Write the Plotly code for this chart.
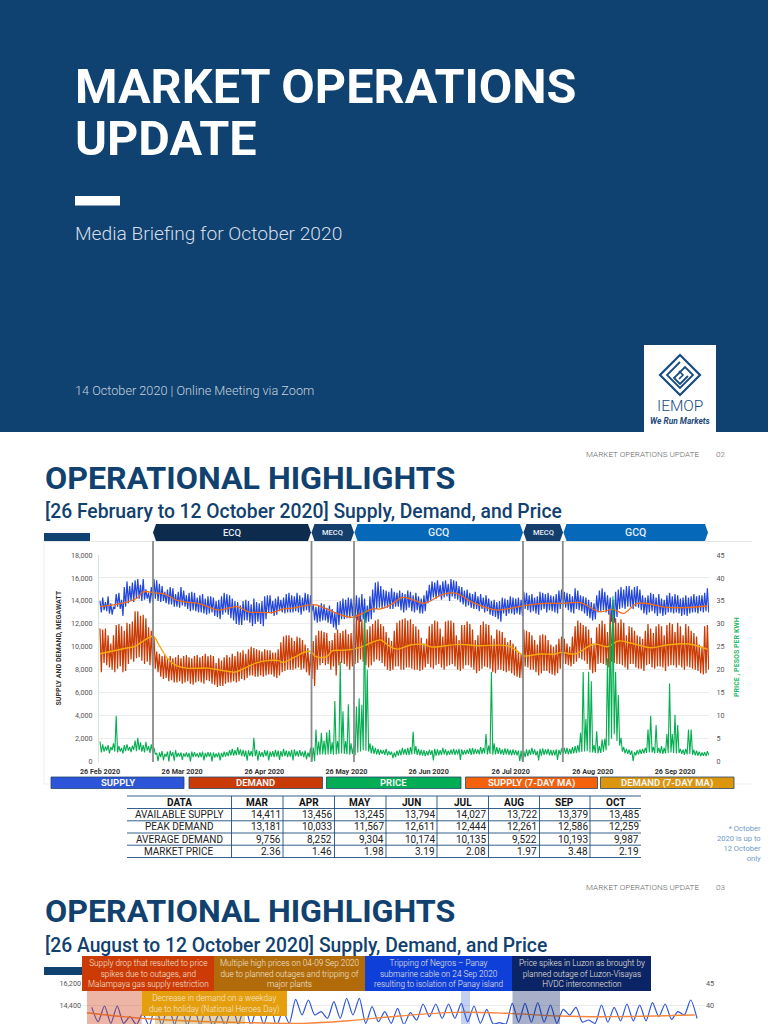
import pandas as pd
import plotly.graph_objects as go

# ---------- chart 1 data (daily envelopes) ----------
supply_high = [14000,14300,13900,14400,13800,13500,14600,14700,14100,15200,15700,15300,15600,15800,
15900,15400,15900,15000,14700,15200,15900,15800,15500,15300,14800,15000,15200,15100,
14600,14800,15200,14900,14500,14700,14800,14700,14300,14500,14600,14200,14400,14400,
14300,14000,14100,14400,14700,14600,14500,14200,14000,13900,13600,14000,14100,14000,
13700,14200,13900,13800,14000,14400,14500,14500,14000,14200,14400,14100,14300,14600,
14700,14500,14400,14700,14500,14300,14700,14600,14500,13700,13500,13600,13800,13700,
13400,13600,13300,13000,13900,14000,14200,14100,14300,14200,14400,14500,14300,14600,
14200,13600,14400,15000,15600,15700,15300,15000,14900,14800,15100,14800,14700,14900,
14700,14600,14900,14800,14500,14700,14400,14200,14500,14900,15400,15700,15600,15800,
15400,15700,15800,15500,15900,15800,15700,15300,15200,14900,15000,14700,14600,14800,
14400,14600,14300,14500,14200,14000,14100,13900,14000,14300,14200,14100,14400,14300,
14200,14300,14100,14800,14700,14500,14600,14300,14400,14800,14700,14600,14700,14500,
14400,14600,14900,15000,14800,14700,14600,14400,15100,14900,14500,14400,14300,14100,
13900,13800,14500,14900,15100,14800,14500,14300,14100,14800,15000,15200,15000,15300,
15300,15000,15200,15300,15000,14500,14300,14500,14700,14600,14300,14600,14200,14100,
14500,14700,14400,14600,14500,14200,14300,14500,14300,14400,14600,14400,14500,14500,
14700,15100]
supply_low = [13000,13200,13100,12900,12800,13300,13500,13300,12700,13500,13800,14000,13900,14200,
14200,14000,14100,14200,13800,13900,14200,14000,13900,14000,13800,13700,13700,13500,
13500,13400,13600,13500,13300,13100,13200,13100,13000,13000,12900,12800,12900,13000,
12700,12600,12400,12800,13000,12800,12500,12300,12000,11900,11900,12300,12300,12100,
11800,12000,12200,12000,11800,12400,13000,12900,12700,12800,13100,13000,12900,13000,
13000,13000,13100,13000,12800,13100,13200,13000,13100,12300,12100,12200,12300,12300,
12100,12000,11700,11500,11900,12400,12400,12500,12500,12700,12500,12300,12200,12400,
12100,12200,12400,13000,13300,13400,13300,13500,13400,13300,13300,13500,13500,13200,
13000,13200,13400,13100,13000,13200,12900,12900,13100,13800,14000,14300,14200,14400,
14100,14300,14400,14000,14400,14200,14100,13900,13700,13500,13600,13400,13300,13300,
13100,13300,13000,13100,12800,12700,12600,12400,12200,12900,12700,12900,12900,12800,
12900,12800,12700,13300,13200,13000,13100,12900,12800,13200,13300,13000,13200,13100,
13000,12900,13300,13500,13400,13200,13000,12900,13300,13200,13100,12900,12700,12500,
12300,12400,13000,13100,13200,13000,12800,12200,12100,12600,13300,13400,13300,13500,
13500,13300,13500,13400,13200,12900,12800,13000,13100,12900,12700,12900,12700,12800,
13000,13000,12900,13000,12900,12700,12800,12700,12900,13000,13000,12900,13100,13000,
13100,13000]
demand_high = [11600,11500,11600,11000,10300,11000,11900,12000,11800,11400,12100,12000,12200,13100,
13100,12700,12800,12500,11700,11400,10900,9600,9400,9200,9300,9000,9200,9000,
9100,9300,9000,9200,9300,9100,9000,9200,9300,9100,9200,9400,9200,9300,
9200,8600,9000,8800,9100,9300,9100,9400,9200,9600,9500,9700,9400,9800,
10000,9900,9800,9700,9600,9800,9700,9700,9500,9500,9800,10400,10900,11000,
11000,10800,10500,10900,10800,10600,10200,9900,9400,10500,11000,11400,11400,11300,
11200,10500,10600,11200,11500,11200,11400,11500,11100,11200,12000,12800,13000,12400,
12200,11500,11800,12000,12300,12400,12000,11800,11300,10800,10500,11400,12100,12300,
12400,12500,12300,12400,12000,11800,11500,10800,10300,10700,11800,12000,12300,12200,
11600,10900,12200,12300,12300,12100,11000,10600,11900,11900,12200,12000,11500,10600,
11000,11900,12200,12000,11900,11000,10700,11500,11400,11300,10800,10400,10600,10300,
10000,9600,9400,11500,11400,11300,11000,10600,10200,11000,11100,11000,10600,10200,
10000,10200,10700,10900,10700,10300,10000,10900,11800,12300,12100,11900,11800,11500,
10800,10200,11700,12000,12300,12000,11300,13000,12600,12500,12100,12400,12100,11000,
11800,11700,11400,11000,10900,10700,11400,12000,11600,11200,11800,12000,11800,11000,
11900,12100,12000,11300,12100,11800,11000,12000,11800,11400,11200,10900,10200,10000,
11800,11900]
demand_low = [7800,8600,8400,8200,8000,7800,8100,8300,7800,7900,8500,8900,8700,9000,
9100,8800,8500,8700,8400,8300,8100,7800,7400,7200,7300,7000,7100,6900,
6900,7000,6800,6900,7000,6800,6700,6900,7000,6900,6800,7100,7000,6800,
6700,6500,6600,6600,6800,6900,6900,7000,6900,7000,7200,7100,7300,7500,
7500,7400,7400,7500,7400,7500,7600,7600,7400,7300,7500,7800,7900,8000,
8000,8000,8100,8200,8000,8100,7800,7500,7200,6600,8000,8400,8600,8400,
8500,8000,8300,7500,8400,8600,8500,8300,8000,8300,8500,8600,8900,8700,
8400,8200,8400,8700,8900,8800,8600,8300,8000,7900,8000,8300,8300,8000,
8000,8200,8200,8100,8000,8000,7900,8000,8200,8500,8200,8100,8400,8500,
8200,8000,8300,8400,8500,8300,8000,7900,8100,8400,8400,8200,8000,7700,
7900,8100,8300,8200,8100,7800,7700,8000,8000,7900,7800,7900,7700,7500,
7400,7300,7300,8300,8200,8000,8000,7800,7500,7700,7900,7900,7700,7600,
7500,7700,8100,8500,8500,8400,8300,8500,8700,9000,8900,8800,8500,8000,
7700,7800,8500,8600,8500,8400,8200,8700,8600,8500,8500,8400,8200,8000,
8500,8500,8200,8100,8100,7900,8400,8500,8200,8100,8300,8300,8200,7900,
8300,8400,8400,8200,8400,8200,8000,8300,8200,8100,8000,7900,7700,7600,
7700,8000]
price_peak = [4.4,3.8,3.3,3.6,3.2,4.0,10.0,3.4,3.0,3.6,3.8,3.2,3.5,4.6,
5.2,4.2,3.6,4.3,3.4,3.8,3.0,1.9,2.0,2.3,1.7,2.2,2.4,2.1,
2.5,1.9,2.0,1.8,2.0,1.9,2.2,2.1,1.8,2.0,2.2,1.9,2.1,2.0,
2.0,1.8,2.0,1.9,2.2,2.1,2.5,2.8,2.5,3.2,2.7,2.6,2.4,2.5,
2.3,5.2,2.6,2.3,2.1,2.5,2.4,2.2,2.3,2.6,2.4,2.3,2.8,2.4,
2.3,2.6,2.7,2.3,2.5,2.2,2.4,2.0,3.0,3.1,7.0,4.4,6.3,4.6,
6.4,6.9,4.2,13.2,4.5,21.8,11.0,4.5,12.5,4.0,3.5,12.0,13.8,12.4,
33.0,20.0,4.0,3.5,3.0,2.8,2.6,2.5,2.8,2.3,2.2,2.0,2.4,2.6,
3.0,2.8,3.0,3.2,6.5,3.4,2.8,2.6,2.5,2.3,2.6,2.5,2.8,2.7,
2.5,3.0,2.7,2.4,2.6,2.8,2.6,2.8,2.7,2.5,2.6,2.9,3.0,2.8,
2.7,3.2,3.0,6.0,3.5,19.5,4.0,3.2,3.0,2.7,2.9,2.8,2.6,2.7,
2.5,2.4,2.4,2.3,2.7,2.6,3.0,2.7,2.3,2.8,2.9,2.7,2.8,2.6,
2.5,2.7,2.6,2.9,3.0,3.0,2.8,3.2,3.4,3.6,6.3,19.5,9.3,19.6,
17.5,3.6,6.6,3.4,4.8,5.0,22.5,30.0,36.0,19.5,14.5,5.2,3.2,2.8,
2.6,2.4,2.1,2.5,2.7,2.8,3.0,7.0,10.0,3.2,8.0,3.0,3.4,3.0,
6.0,17.0,6.0,10.2,8.0,2.8,2.6,2.8,7.0,7.0,2.6,2.4,2.2,2.0,
2.1,2.3]
price_base = [2.0,2.2,2.4,1.8,2.5,2.2,2.0,2.2,1.8,2.3,2.4,2.1,2.6,2.3,
2.5,2.2,2.0,2.4,1.9,2.0,1.6,0.1,1.0,0.3,1.1,0.0,1.2,0.2,
1.0,1.1,0.4,1.1,1.0,0.0,1.0,1.1,0.9,1.0,0.3,1.0,1.1,0.0,
0.9,1.0,0.3,1.0,1.1,1.2,1.4,1.3,1.4,1.5,1.2,1.1,0.2,1.2,
1.1,1.2,0.2,1.1,1.0,1.2,0.3,1.1,1.0,1.1,0.4,1.1,1.2,1.0,
1.1,0.3,1.2,1.1,1.2,1.0,0.5,1.0,0.0,0.1,1.4,1.5,1.6,1.5,
1.6,1.7,1.5,1.6,1.7,1.8,1.7,1.6,1.5,1.7,1.4,2.0,2.2,2.5,
2.4,2.2,1.8,1.7,1.6,1.5,1.7,1.5,1.4,1.5,0.8,1.0,1.3,1.4,
1.6,1.5,1.4,1.6,1.7,1.5,1.4,1.3,1.2,1.4,1.5,0.3,1.3,1.4,
1.5,1.6,1.4,1.5,1.6,1.5,1.6,0.4,1.5,1.6,1.7,1.5,1.6,1.7,
1.6,1.7,1.8,1.6,1.7,1.5,1.6,1.7,1.6,1.5,1.6,1.5,1.4,1.5,
1.4,0.1,0.0,1.0,1.2,1.5,1.6,1.4,0.3,1.3,1.5,1.6,1.4,1.3,
1.4,0.4,1.5,1.6,1.7,1.6,1.7,1.8,1.9,2.0,2.1,2.2,2.3,2.0,
2.0,1.9,1.8,1.9,2.2,2.5,3.5,5.0,6.0,4.5,3.5,2.2,1.8,1.7,
1.5,0.1,1.4,1.6,1.7,1.8,1.9,2.0,2.0,1.8,1.9,1.8,1.7,1.8,
1.9,2.0,1.9,1.8,1.9,1.7,1.5,1.6,1.7,1.5,1.4,1.3,1.2,1.3,
1.2,1.4]

supply_ma_days = [0,10,14,16,20,24,28,32,36,40,44,48,51,55,60,64,68,72,76,78,80,84,88,92,94,98,101,104,108,112,116,120,127,132,138,147,153,157,165,171,178,185,190,194,199,210,216,225]
supply_ma = [13500,13900,14300,14800,14700,14600,14100,13900,13800,13500,13200,13400,13500,13050,13000,13000,13300,13400,13600,13650,13650,13300,12900,12600,12600,13000,13300,13300,13700,14300,14100,13800,14570,14660,13880,13210,13400,13590,13790,13790,13850,13060,13270,12920,13790,13440,13410,13560]
demand_ma_days = [0,10,13,16,19,20,22,25,28,32,40,44,48,50,54,58,62,66,68,72,76,78,80,84,86,90,94,98,102,104,107,110,115,120,123,133,140,151,154,157,163,168,171,176,183,188,192,197,204,210,218,225]
demand_ma = [9400,9900,10050,10500,10900,10900,10100,9000,8400,8150,8150,8000,7850,7800,8200,8600,8800,8800,8650,9100,9550,9600,9150,9150,9650,9700,9800,10100,10500,10600,10100,9800,10160,10220,9990,10220,10100,10100,9730,9230,9380,9360,9520,9380,10250,10015,10510,10310,9930,10160,10250,9790]

x_tick_labels = ["26 Feb 2020","26 Mar 2020","26 Apr 2020","26 May 2020","26 Jun 2020","26 Jul 2020","26 Aug 2020","26 Sep 2020"]
x_tick_step_days = 30.43
mw_ticks = [0,2000,4000,6000,8000,10000,12000,14000,16000,18000]
price_ticks = [0,5,10,15,20,25,30,35,40,45]

# ---------- table ----------
table_header = ["DATA","MAR","APR","MAY","JUN","JUL","AUG","SEP","OCT"]
table_rows = {
    "AVAILABLE SUPPLY": ["14,411","13,456","13,245","13,794","14,027","13,722","13,379","13,485"],
    "PEAK DEMAND": ["13,181","10,033","11,567","12,611","12,444","12,261","12,586","12,259"],
    "AVERAGE DEMAND": ["9,756","8,252","9,304","10,174","10,135","9,522","10,193","9,987"],
    "MARKET PRICE": ["2.36","1.46","1.98","3.19","2.08","1.97","3.48","2.19"],
}

# ---------- chart 2 data (top of the chart only is on the page) ----------
supply2_peak = [14209,14318,14318,13445,13700,14300,14400,14350,14300,14250,13650,14350,14400,14300,14350,13900,
14863,14809,13854,14673,14945,14945,14263,13854,14127,13773,14482,14482,14482,14536,14318,14045,
12950,14536,14536,14590,14400,14045,14209,13172,14400,14209,14482,14400,14590,14482,13854,14809]
supply2_low = [13030,12900,12900,12800,12700,12750,12800,12700,12750,12650,12700,12800,12750,12800,12700,12900,
13580,13580,13300,13300,13580,12900,13030,12900,12800,13170,13445,13300,13300,13030,12900,12850,
12850,13000,13000,13000,12900,13580,13000,12900,13000,13100,13100,13100,13445,13230,13580,13300]
supply2_ma_days = [0,4.3,9,13,17,20.5,24.5,29,33,37,41,47.7]
supply2_ma = [13770,13310,13050,12950,12900,13116,13500,13800,13720,13500,13445,13580]

start = pd.Timestamp("2020-02-26")
start2 = pd.Timestamp("2020-08-26")

def zig(hi, lo, base):
    xs, ys = [], []
    for i, (a, b) in enumerate(zip(hi, lo)):
        xs += [base + pd.Timedelta(hours=24 * i), base + pd.Timedelta(hours=24 * i + 12)]
        ys += [a, b]
    return xs, ys

def at(base, ds):
    return [base + pd.Timedelta(hours=24 * d) for d in ds]

W, H = 768, 1024
NAVY = "#0f4171"
fig = go.Figure()

# chart 1 traces
sx, sy = zig(supply_high, supply_low, start)
dx, dy = zig(demand_high, demand_low, start)
px_, py = zig(price_peak, price_base, start)
fig.add_trace(go.Scatter(x=px_, y=py, yaxis="y2", xaxis="x", mode="lines", line=dict(color="#05ae50", width=1.1), name="PRICE"))
fig.add_trace(go.Scatter(x=sx, y=sy, mode="lines", line=dict(color="#2446d8", width=1.2), name="SUPPLY"))
fig.add_trace(go.Scatter(x=dx, y=dy, mode="lines", line=dict(color="#c93b05", width=1.25), name="DEMAND"))
fig.add_trace(go.Scatter(x=at(start, supply_ma_days), y=supply_ma, mode="lines", line=dict(color="#f36b14", width=1.3, shape="spline"), name="SUPPLY MA"))
fig.add_trace(go.Scatter(x=at(start, demand_ma_days), y=demand_ma, mode="lines", line=dict(color="#f7ab0f", width=1.4, shape="spline"), name="DEMAND MA"))

# chart 2 traces
x2 = []
y2 = []
for i, (a, b) in enumerate(zip(supply2_peak, supply2_low)):
    x2 += [start2 + pd.Timedelta(hours=24 * i + 9), start2 + pd.Timedelta(hours=24 * i + 21)]
    y2 += [a, b]
fig.add_trace(go.Scatter(x=x2, y=y2, xaxis="x2", yaxis="y3", mode="lines", line=dict(color="#2f55d8", width=1.2, shape="spline", smoothing=0.7), name="SUPPLY 2"))
fig.add_trace(go.Scatter(x=at(start2, supply2_ma_days), y=supply2_ma, xaxis="x2", yaxis="y3", mode="lines", line=dict(color="#f4873c", width=1.4, shape="spline"), name="SUPPLY MA 2"))

shapes, notes = [], []

def rect(x0, y0, x1, y1, fill, line=None, lw=0, layer="above"):
    shapes.append(dict(type="rect", xref="paper", yref="paper", x0=x0 / W, x1=x1 / W, y0=1 - y0 / H, y1=1 - y1 / H,
                       fillcolor=fill, line=dict(color=line or fill, width=lw), layer=layer))

def seg(x0, y0, x1, y1, color, lw=1, layer="above"):
    shapes.append(dict(type="line", xref="paper", yref="paper", x0=x0 / W, x1=x1 / W, y0=1 - y0 / H, y1=1 - y1 / H,
                       line=dict(color=color, width=lw), layer=layer))

def poly(points, fill=None, line=None, lw=0, closed=True):
    d = "M " + " L ".join(f"{x / W:.5f},{1 - y / H:.5f}" for x, y in points) + (" Z" if closed else "")
    shapes.append(dict(type="path", xref="paper", yref="paper", path=d, fillcolor=fill or "rgba(0,0,0,0)",
                       line=dict(color=line or "rgba(0,0,0,0)", width=lw), layer="above"))

def text(x, y, s, size, color, anchor="left", weight=400, family="Roboto", style="normal", angle=0):
    notes.append(dict(xref="paper", yref="paper", x=x / W, y=1 - y / H, text=s, showarrow=False, xanchor=anchor, yanchor="middle",
                      align={"left": "left", "center": "center", "right": "right"}[anchor], textangle=angle, borderpad=0,
                      font=dict(family=family, size=size, color=color, weight=weight, style=style)))

# cover
rect(0, 0, W, 432, NAVY, layer="below")
text(74, 86.5, "MARKET OPERATIONS", 48.6, "#ffffff", weight=700)
text(74, 138.5, "UPDATE", 48.6, "#ffffff", weight=700)
rect(75, 196, 120, 205.5, "#ffffff")
text(74, 233, "Media Briefing for October 2020", 19.2, "#d5dfe9", weight=300)
text(74, 390, "14 October 2020 | Online Meeting via Zoom", 12.7, "#c4d1de", weight=300)
rect(644, 345, 716, 432, "#ffffff")
LOGO = "#174c7e"
poly([(680, 355), (700, 375), (680, 395), (660, 375)], line=LOGO, lw=2.2)
poly([(680, 362), (667, 375), (680, 388), (693, 375), (685, 367), (674, 378), (680, 384), (688, 376)], line=LOGO, lw=1.8, closed=False)
poly([(679, 371), (683, 375), (679, 379)], line=LOGO, lw=1.6, closed=False)
text(680, 406, "IEMOP", 15.5, LOGO, anchor="center", weight=300)
text(680, 421, "We Run Markets", 8.4, "#1d4a7a", anchor="center", weight=700, style="italic")

# page 2 heading
PAGE = "#656565"
text(585, 453.5, "MARKET OPERATIONS UPDATE", 8.1, PAGE, weight=300)
text(715, 453.5, "02", 8.1, PAGE, weight=300)
text(44, 478, "OPERATIONAL HIGHLIGHTS", 32.2, "#11416f", weight=700)
text(44, 511.5, "[26 February to 12 October 2020] Supply, Demand, and Price", 19.3, "#11416f", weight=500)
rect(44, 533, 90, 541, NAVY)

# chart panel
poly([(44, 541.5), (752, 541.5)], line="#e6e6e6", lw=1, closed=False)
poly([(44, 541.5), (44, 784), (752, 784)], line="#efefef", lw=1, closed=False)

# phase bars
phases = [("ECQ", 153, 311, "#0c2b4d", 9.5), ("MECQ", 311.5, 354, "#143f6c", 7.5), ("GCQ", 354.5, 523, "#0568b9", 10.5),
          ("MECQ", 523.5, 563, "#143f6c", 7.5), ("GCQ", 563.5, 708, "#0568b9", 10.5)]
for name, a, b, col, fs in phases:
    poly([(a + 3, 524), (b - 3, 524), (b, 532.5), (b - 3, 541), (a + 3, 541), (a, 532.5)], fill=col)
    text((a + b) / 2, 532.8, name, fs, "#e6eef6", anchor="center", weight=500)
for xv in [153, 311.5, 354, 523, 562.8]:
    seg(xv, 541, xv, 762, "#8b8b8b", 1.8)

# chart 1 axis captions
text(57.5, 648, "SUPPLY AND DEMAND, MEGAWATT", 7.1, "#333333", anchor="center", weight=700, angle=-90)
text(736, 657, "PRICE , PESOS PER KWH", 7.1, "#1fb866", anchor="center", weight=700, angle=-90)

# legend boxes
legend = [("SUPPLY", 51, 184, "#2c55d9"), ("DEMAND", 189, 322.5, "#c93a07"), ("PRICE", 326.5, 461, "#00ad55"),
          ("SUPPLY (7-DAY MA)", 465.5, 597.5, "#f4610a"), ("DEMAND (7-DAY MA)", 600.5, 734, "#dc960d")]
for name, a, b, col in legend:
    rect(a, 777, b, 788.5, col, line="#24486f", lw=0.8)
    text((a + b) / 2, 782.8, name, 9.5, "#f3f3f3", anchor="center", weight=700)

# table
NARROW = "Liberation Sans Narrow, Roboto"
col_edges = [127, 231.5, 283, 334.5, 386, 437, 488.5, 539.5, 590, 641]
row_edges = [796, 808.5, 820.8, 833, 845.2, 857.5]
for yv in row_edges:
    seg(col_edges[0], yv, col_edges[-1], yv, "#1d4e7d", 0.9)
for xv in col_edges[1:-1]:
    seg(xv, row_edges[0], xv, row_edges[-1], "#1d4e7d", 0.9)
for j, h in enumerate(table_header):
    text((col_edges[j] + col_edges[j + 1]) / 2, 802.2, h, 10, "#111111", anchor="center", weight=700, family=NARROW)
for i, (label, vals) in enumerate(table_rows.items()):
    yc = (row_edges[i + 1] + row_edges[i + 2]) / 2
    text((col_edges[0] + col_edges[1]) / 2, yc, label, 10, "#222222", anchor="center", family=NARROW)
    for j, v in enumerate(vals):
        text(col_edges[j + 2] - 1.5, yc, v, 10, "#222222", anchor="right", family=NARROW)
text(762, 843.5, "* October<br>2020 is up to<br>12 October<br>only", 7.6, "#6f9bc5", anchor="right", weight=400)

# page 3 heading
text(585, 886.5, "MARKET OPERATIONS UPDATE", 8.1, PAGE, weight=300)
text(715, 886.5, "03", 8.1, PAGE, weight=300)
text(44, 911, "OPERATIONAL HIGHLIGHTS", 32.2, "#11416f", weight=700)
text(44, 945, "[26 August to 12 October 2020] Supply, Demand, and Price", 19.3, "#11416f", weight=500)
rect(44, 967, 90, 975, NAVY)

# chart 2 shaded spans and call-outs
rect(87, 991, 141.5, 1024, "rgba(205,60,20,0.38)")
rect(155, 1011, 245, 1024, "rgba(190,130,20,0.35)")
rect(461, 991, 470, 1024, "rgba(40,85,210,0.28)")
rect(512.5, 991, 560, 1024, "rgba(12,36,102,0.36)")
callouts = [
    (82, 214, 956, 991, "#cc3a06", "Supply drop that resulted to price<br>spikes due to outages, and<br>Malampaya gas supply restriction"),
    (214, 365, 956, 991, "#b26b0b", "Multiple high prices on 04-09 Sep 2020<br>due to planned outages and tripping of<br>major plants"),
    (365, 512, 956, 991, "#0e3fd9", "Tripping of Negros – Panay<br>submarine cable on 24 Sep 2020<br>resulting to isolation of Panay island"),
    (512, 651, 956, 991, "#0b2466", "Price spikes in Luzon as brought by<br>planned outage of Luzon-Visayas<br>HVDC interconnection"),
    (141.5, 287, 991, 1016, "#e59f0e", "Decrease in demand on a weekday<br>due to holiday (National Heroes Day)"),
]
for x0, x1, y0, y1, col, msg in callouts:
    rect(x0, y0, x1, y1, col)
    text((x0 + x1) / 2, (y0 + y1) / 2, msg, 8.2, "#f1e9df", anchor="center", weight=300)

TICK = dict(family="Roboto", size=7.2, color="#555555")
GRID = "#ececec"
CLEAR = "rgba(0,0,0,0)"
xr1 = [start + pd.Timedelta(hours=24 * -0.37), start + pd.Timedelta(hours=24 * 225.6)]
xr2 = [start2 + pd.Timedelta(hours=24 * -0.39), start2 + pd.Timedelta(hours=24 * 48.5)]
x_tick_vals = [start + pd.Timedelta(hours=24 * x_tick_step_days * i) for i in range(len(x_tick_labels))]
fig.update_layout(
    width=W, height=H, margin=dict(l=0, r=0, t=0, b=0, autoexpand=False),
    paper_bgcolor="#ffffff", plot_bgcolor="rgba(0,0,0,0)", showlegend=False,
    shapes=shapes, annotations=notes,
    xaxis=dict(domain=[99 / W, 709 / W], range=xr1, type="date", anchor="y", tickmode="array", tickvals=x_tick_vals, ticktext=x_tick_labels,
               showgrid=False, zeroline=False, showline=False, ticks="outside", ticklen=3, tickcolor=CLEAR, tickangle=0,
               tickfont=dict(family="Roboto", size=7.2, color="#333333", weight=700)),
    yaxis=dict(domain=[1 - 761.7 / H, 1 - 555 / H], range=[0, 18000], tickmode="array", tickvals=mw_ticks, tickformat=",d",
               showgrid=True, gridcolor=GRID, gridwidth=1.4, zeroline=False, showline=True, linecolor="#d5e8d4", linewidth=1,
               ticks="outside", ticklen=4, tickcolor=CLEAR, tickfont=TICK),
    yaxis2=dict(domain=[1 - 761.7 / H, 1 - 555 / H], range=[0, 45], overlaying="y", side="right", anchor="x", tickmode="array", tickvals=price_ticks,
                showgrid=False, zeroline=False, ticks="outside", ticklen=5, tickcolor=CLEAR, tickfont=TICK),
    xaxis2=dict(domain=[82 / W, 705 / W], range=xr2, type="date", anchor="y3", visible=False),
    yaxis3=dict(domain=[0, 1 - 983 / H], range=[12845, 16200], anchor="x2", tickmode="array", tickvals=[14400, 16200], tickformat=",d",
                showgrid=True, gridcolor=GRID, gridwidth=1.4, zeroline=False, ticks="", tickfont=TICK),
    yaxis4=dict(domain=[0, 1 - 983 / H], range=[35.68, 45], overlaying="y3", side="right", anchor="x2", tickmode="array", tickvals=[40, 45],
                showgrid=False, zeroline=False, ticks="", tickfont=TICK),
)
# empty trace keeps the right-hand price scale of chart 2 on the page
fig.add_trace(go.Scatter(x=[start2], y=[45], xaxis="x2", yaxis="y4", mode="lines", line=dict(width=0), showlegend=False, hoverinfo="skip"))

fig.write_html("out.html", config=dict(displayModeBar=False),
               post_script="document.body.style.margin='0';document.documentElement.style.overflow='hidden';")
